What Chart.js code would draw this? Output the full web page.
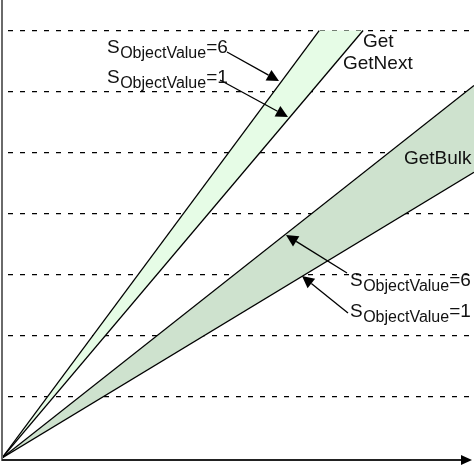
<!DOCTYPE html>
<html>
<head>
<meta charset="utf-8">
<script src="https://cdn.jsdelivr.net/npm/chart.js@4/dist/chart.umd.min.js"></script>
<style>
  html, body { margin: 0; padding: 0; background: #fff; }
  #wrap { width: 474px; height: 466px; }
</style>
</head>
<body>
<div id="wrap"><canvas id="c" width="474" height="466"></canvas></div>
<script>
// wedge outlines: [origin, first edge end, second edge end, origin]
const getX = [0, 6.72, 7.65, 0];
const getY = [0, 7, 7, 0];
const bulkX = [0, 10, 10, 0];
const bulkY = [0, 6.1, 4.68, 0];

const yTicks = [1, 2, 3, 4, 5, 6, 7];

const toPoints = (xs, ys) => xs.map((x, i) => ({ x: x, y: ys[i] }));
// straight edge from the origin to one corner of a wedge
const edge = (xs, ys, i) => [{ x: xs[0], y: ys[0] }, { x: xs[i], y: ys[i] }];

// annotation text: S with subscript, then the rest
const labels = [
  { x: 107, y: 53, sub: 'ObjectValue', tail: '=6' },
  { x: 107, y: 83, sub: 'ObjectValue', tail: '=1' },
  { x: 350, y: 286, sub: 'ObjectValue', tail: '=6' },
  { x: 350, y: 317, sub: 'ObjectValue', tail: '=1' }
];
const names = [
  { x: 363, y: 47, text: 'Get' },
  { x: 343, y: 69, text: 'GetNext' },
  { x: 404, y: 164, text: 'GetBulk' }
];
const arrows = [
  [227, 52, 279, 81],
  [220, 80, 288, 117],
  [347, 273, 286, 235],
  [348, 313, 302, 276]
];

function arrow(ctx, x1, y1, x2, y2, len, half) {
  const a = Math.atan2(y2 - y1, x2 - x1);
  const bx = x2 - len * Math.cos(a), by = y2 - len * Math.sin(a);
  ctx.beginPath();
  ctx.moveTo(x1, y1);
  ctx.lineTo(bx, by);
  ctx.stroke();
  ctx.beginPath();
  ctx.moveTo(x2, y2);
  ctx.lineTo(bx + half * Math.sin(a), by - half * Math.cos(a));
  ctx.lineTo(bx - half * Math.sin(a), by + half * Math.cos(a));
  ctx.closePath();
  ctx.fill();
}

const annotations = {
  id: 'annotations',
  afterDraw(chart) {
    const ctx = chart.ctx;
    ctx.save();
    // axes
    ctx.strokeStyle = '#6a6a6a';
    ctx.lineWidth = 2;
    ctx.beginPath();
    ctx.moveTo(2, 0);
    ctx.lineTo(2, 461);
    ctx.stroke();
    ctx.strokeStyle = '#222';
    ctx.fillStyle = '#000';
    arrow(ctx, 2, 460, 472, 460, 11, 5);

    ctx.lineWidth = 1.3;
    ctx.strokeStyle = '#000';
    arrows.forEach(a => arrow(ctx, a[0], a[1], a[2], a[3], 12, 6));

    ctx.fillStyle = '#111';
    ctx.textBaseline = 'alphabetic';
    ctx.textAlign = 'left';
    labels.forEach(l => {
      ctx.font = '19px "Liberation Sans", Arial, sans-serif';
      let x = l.x;
      ctx.fillText('S', x, l.y);
      x += ctx.measureText('S').width + 0.5;
      ctx.font = '16px "Liberation Sans", Arial, sans-serif';
      ctx.fillText(l.sub, x, l.y + 5);
      x += ctx.measureText(l.sub).width;
      ctx.font = '19px "Liberation Sans", Arial, sans-serif';
      ctx.fillText(l.tail, x, l.y);
    });
    ctx.font = '19px "Liberation Sans", Arial, sans-serif';
    names.forEach(n => ctx.fillText(n.text, n.x, n.y));
    ctx.restore();
  }
};

const fillSet = (label, pts, color) => ({
  label: label,
  data: pts,
  order: 2,
  fill: 'shape',
  backgroundColor: color,
  borderColor: color,
  borderWidth: 0,
  pointRadius: 0,
  tension: 0
});
const edgeSet = pts => ({
  data: pts,
  order: 1,
  fill: false,
  borderColor: '#000',
  borderWidth: 1.3,
  pointRadius: 0,
  tension: 0
});

new Chart(document.getElementById('c'), {
  type: 'line',
  data: {
    datasets: [
      fillSet('Get / GetNext', toPoints(getX, getY), 'rgb(230,252,230)'),
      fillSet('GetBulk', toPoints(bulkX, bulkY), 'rgb(206,226,206)'),
      edgeSet(edge(getX, getY, 1)),
      edgeSet(edge(getX, getY, 2)),
      edgeSet(edge(bulkX, bulkY, 1)),
      edgeSet(edge(bulkX, bulkY, 2))
    ]
  },
  options: {
    responsive: false,
    animation: false,
    layout: { padding: { left: 2, right: 0, top: 0, bottom: 8 } },
    plugins: {
      legend: { display: false },
      tooltip: { enabled: false },
      filler: { propagate: false }
    },
    scales: {
      x: {
        type: 'linear',
        min: 0,
        max: 10,
        display: true,
        grid: { display: false, drawTicks: false },
        border: { display: false },
        ticks: { display: false }
      },
      y: {
        type: 'linear',
        min: 0,
        max: 7.5,
        afterBuildTicks: scale => { scale.ticks = yTicks.map(v => ({ value: v })); },
        grid: {
          drawTicks: false,
          color: '#000',
          lineWidth: 1.3
        },
        border: { display: false, dash: [5, 7], dashOffset: 6 },
        ticks: { display: false }
      }
    }
  },
  plugins: [annotations]
});
</script>
</body>
</html>
